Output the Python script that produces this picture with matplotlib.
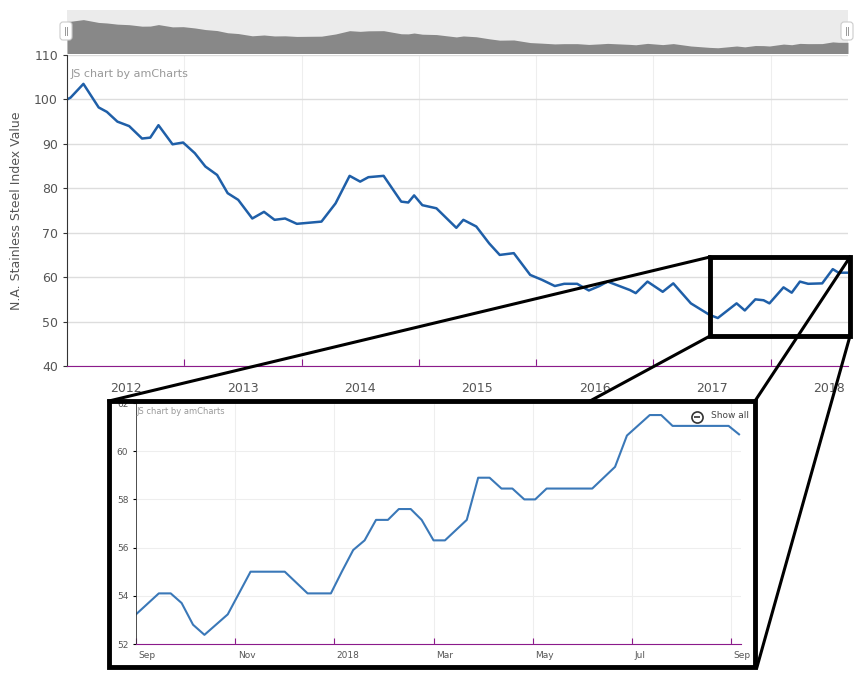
import matplotlib
matplotlib.use("Agg")
import matplotlib.pyplot as plt
from matplotlib.patches import FancyBboxPatch, Rectangle

# Main series: decimal year, index value
years = [2012.0, 2012.03, 2012.14, 2012.27, 2012.34, 2012.43, 2012.53, 2012.64, 2012.71, 2012.78,
         2012.90, 2012.99, 2013.09, 2013.18, 2013.28, 2013.37, 2013.46, 2013.58, 2013.68, 2013.77,
         2013.86, 2013.96, 2014.17, 2014.29, 2014.41, 2014.50, 2014.57, 2014.70, 2014.85, 2014.91,
         2014.96, 2015.03, 2015.15, 2015.32, 2015.38, 2015.49, 2015.60, 2015.69, 2015.81, 2015.95,
         2016.05, 2016.16, 2016.24, 2016.35, 2016.45, 2016.54, 2016.61, 2016.80, 2016.85, 2016.95,
         2017.08, 2017.17, 2017.32, 2017.48, 2017.55, 2017.71, 2017.78, 2017.87, 2017.94, 2017.99,
         2018.11, 2018.18, 2018.25, 2018.32, 2018.44, 2018.53, 2018.58, 2018.66]
values = [100, 100.4, 103.5, 98.2, 97.2, 95, 94, 91.2, 91.4, 94.2,
          89.9, 90.3, 87.9, 84.9, 83, 78.9, 77.4, 73.2, 74.7, 72.9,
          73.2, 72, 72.5, 76.6, 82.8, 81.5, 82.5, 82.8, 77, 76.8,
          78.4, 76.2, 75.5, 71.1, 72.9, 71.4, 67.6, 65, 65.4, 60.5,
          59.4, 58, 58.5, 58.5, 57, 58, 59, 57.1, 56.4, 59,
          56.7, 58.6, 54.1, 51.5, 50.8, 54.1, 52.5, 55, 54.8, 54.1,
          57.7, 56.5, 59, 58.5, 58.6, 61.8, 61, 61]
year_labels = ["2012", "2013", "2014", "2015", "2016", "2017", "2018"]
main_yticks = [40, 50, 60, 70, 80, 90, 100, 110]

# Inset: months since 1 Sep 2017
months = [0, 0.46, 0.70, 0.92, 1.15, 1.38, 1.85, 2.31, 3.0, 3.46, 3.93, 4.15, 4.38, 4.61, 4.84,
          5.08, 5.30, 5.54, 5.76, 6.0, 6.23, 6.67, 6.90, 7.13, 7.37, 7.59, 7.83, 8.05, 8.28,
          9.2, 9.66, 9.9, 10.36, 10.59, 10.82, 11.95, 12.16]
inset_vals = [53.23, 54.1, 54.1, 53.7, 52.8, 52.38, 53.23, 55, 55, 54.1, 54.1, 55, 55.9, 56.3, 57.15,
              57.15, 57.6, 57.6, 57.15, 56.3, 56.3, 57.15, 58.9, 58.9, 58.45, 58.45, 58.0, 58.0, 58.45,
              58.45, 59.35, 60.65, 61.5, 61.5, 61.05, 61.05, 60.7]
inset_xlabels = ["Sep", "Nov", "2018", "Mar", "May", "Jul", "Sep"]
inset_yticks = [52, 54, 56, 58, 60, 62]

W, H = 863, 681
fig = plt.figure(figsize=(W / 100, H / 100), dpi=100)

def rect(l, t, r, b):
    return [l / W, 1 - b / H, (r - l) / W, (b - t) / H]

GRAY = "#555555"
PURPLE = "#8b1a8b"

# Scrollbar
sb = fig.add_axes(rect(67, 10, 848, 53))
sb.set_facecolor("#ebebeb")
sb.fill_between(years, values, 0, color="#888888", lw=0)
sb.set_xlim(2012.0, 2018.66)
sb.set_ylim(41, 121.5)
sb.set_xticks([]); sb.set_yticks([])
for s in sb.spines.values():
    s.set_visible(False)

# Main chart
ax = fig.add_axes(rect(67, 55, 848, 366))
ax.plot(years, values, color="#1f5fa8", lw=1.8)
ax.set_xlim(2012.0, 2018.66)
ax.set_ylim(40, 110)
ax.set_yticks(main_yticks)
ax.set_yticklabels([str(v) for v in main_yticks], color=GRAY, fontsize=9)
ax.yaxis.grid(True, color="#dddddd", lw=1)
ax.set_xticks([2013, 2014, 2015, 2016, 2017, 2018])
ax.xaxis.grid(True, color="#eeeeee", lw=0.8)
ax.set_xticklabels([])
ax.tick_params(axis="x", length=5, color=PURPLE, direction="in")
ax.tick_params(axis="y", length=3, color="#333333")
for i, lab in enumerate(year_labels):
    ax.text(2012.5 + i, -0.05, lab, transform=ax.get_xaxis_transform(), ha="center", va="top",
            color=GRAY, fontsize=9)
for s in ["top", "right"]:
    ax.spines[s].set_visible(False)
ax.spines["bottom"].set_color(PURPLE)
ax.spines["left"].set_color("#333333")
ax.set_ylabel("N.A. Stainless Steel Index Value", color=GRAY, fontsize=9, labelpad=8)
ax.text(0.005, 0.955, "JS chart by amCharts", transform=ax.transAxes, color="#999999", fontsize=8, va="top")

# Inset chart
ia = fig.add_axes(rect(136, 403, 741, 644))
ia.plot(months, inset_vals, color="#3a78b8", lw=1.5)
ia.set_xlim(0, 12.2)
ia.set_ylim(52, 62)
ia.set_yticks(inset_yticks)
ia.set_yticklabels([str(v) for v in inset_yticks], color=GRAY, fontsize=6.5)
ia.set_xticks([0, 2, 4, 6, 8, 10, 12])
ia.set_xticklabels([])
ia.grid(True, color="#eeeeee", lw=0.8)
ia.tick_params(axis="x", length=4, color=PURPLE, direction="in")
ia.tick_params(axis="y", length=2)
for i, lab in enumerate(inset_xlabels):
    ia.text(2 * i + 0.05, -0.03, lab, transform=ia.get_xaxis_transform(), ha="left", va="top",
            color=GRAY, fontsize=6.5)
for s in ["top", "right"]:
    ia.spines[s].set_visible(False)
ia.spines["bottom"].set_color(PURPLE)
ia.spines["left"].set_color("#333333")
ia.spines["left"].set_linewidth(0.6)
ia.text(0.0, 0.985, "JS chart by amCharts", transform=ia.transAxes, color="#999999", fontsize=6, va="top")
ia.text(0.95, 0.965, "Show all", transform=ia.transAxes, color="#444444", fontsize=6.5, va="top", ha="left")
ia.plot([0.927], [0.94], transform=ia.transAxes, marker="o", ms=8, mfc="white", mec="#333333", mew=1.2, clip_on=False)
ia.plot([0.927], [0.94], transform=ia.transAxes, marker="_", ms=4, mec="#333333", mew=1.2, clip_on=False)

# Annotation overlay (scrollbar handles, zoom box, frame, connectors)
ov = fig.add_axes([0, 0, 1, 1], facecolor="none")
ov.set_xlim(0, W); ov.set_ylim(H, 0); ov.axis("off")
for hx in (60, 841):
    ov.add_patch(FancyBboxPatch((hx, 22), 12, 18, boxstyle="round,pad=0,rounding_size=3",
                                fc="white", ec="#cccccc", lw=0.8))
    ov.plot([hx + 5, hx + 5], [27, 35], color="#999999", lw=0.7)
    ov.plot([hx + 7, hx + 7], [27, 35], color="#999999", lw=0.7)
ov.add_patch(Rectangle((710, 257), 140, 79, fill=False, ec="black", lw=3.5))
ov.add_patch(Rectangle((109, 401), 646, 266, fill=False, ec="black", lw=3.5))
for (x0, y0, x1, y1) in [(710, 257, 109, 401), (710, 336, 590, 401),
                         (850, 257, 755, 401), (850, 336, 757, 667)]:
    ov.plot([x0, x1], [y0, y1], color="black", lw=2.2)

fig.savefig("out.png", dpi=100)
